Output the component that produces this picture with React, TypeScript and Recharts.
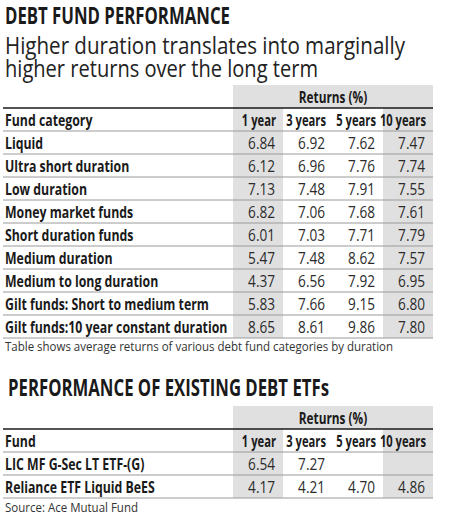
import { ReferenceArea, ReferenceLine, Scatter, ScatterChart, XAxis, YAxis } from 'recharts'

const periods = ['1 year', '3 years', '5 years', '10 years']

const fundCategories = [
	'Liquid',
	'Ultra short duration',
	'Low duration',
	'Money market funds',
	'Short duration funds',
	'Medium duration',
	'Medium to long duration',
	'Gilt funds: Short to medium term',
	'Gilt funds:10 year constant duration',
]
const oneYear = [6.84, 6.12, 7.13, 6.82, 6.01, 5.47, 4.37, 5.83, 8.65]
const threeYears = [6.92, 6.96, 7.48, 7.06, 7.03, 7.48, 6.56, 7.66, 8.61]
const fiveYears = [7.62, 7.76, 7.91, 7.68, 7.71, 8.62, 7.92, 9.15, 9.86]
const tenYears = [7.47, 7.74, 7.55, 7.61, 7.79, 7.57, 6.95, 6.8, 7.8]

const etfNames = ['LIC MF G-Sec LT ETF-(G)', 'Reliance ETF Liquid BeES']
const etfOneYear = [6.54, 4.17]
const etfThreeYears = [7.27, 4.21]
const etfFiveYears = [null, 4.7]
const etfTenYears = [null, 4.86]

const FONT = "'Open Sans', 'Noto Sans', sans-serif"
const LABEL_UNITS = 4.6
const GRAY = '#e0e0e0'

// squeezed svg text, the original uses a condensed face
const Squeezed = ({ x, y, sx, anchor = 'start', size, weight = 400, fill = '#1a1a1a', children }: any) => (
	<text
		transform={`translate(${x},${y}) scale(${sx},1)`}
		textAnchor={anchor}
		fontFamily={FONT}
		fontSize={size}
		fontWeight={weight}
		fill={fill}
	>
		{children}
	</text>
)

const labelShape = (p: any) => (
	<Squeezed x={p.cx + 2} y={p.cy + 6} sx={0.77} size={16} weight={700}>
		{p.payload.label}
	</Squeezed>
)

const headShape = (p: any) => (
	<Squeezed x={p.cx - 7} y={p.cy + 6} sx={0.7} size={16} weight={700} anchor='end'>
		{p.payload.label}
	</Squeezed>
)

const returnsShape = (p: any) => (
	<Squeezed x={p.cx} y={p.cy + 6} sx={0.74} size={16} weight={700} anchor='middle'>
		{p.payload.label}
	</Squeezed>
)

const valueShape = (p: any) => (
	<Squeezed x={p.cx - 8} y={p.cy + 6} sx={0.8} size={17} fill='#2b2b2b' anchor='end'>
		{p.payload.v.toFixed(2)}
	</Squeezed>
)

const Table = ({ heading, names, series, top, bottom }: any) => {
	const n = names.length
	const labels = names.map((label: string, r: number) => ({ x: -LABEL_UNITS, y: r + 0.5, label }))
	labels.push({ x: -LABEL_UNITS, y: -0.5, label: heading })
	const heads = periods.map((label, c) => ({ x: c + 1, y: -0.5, label }))
	const cells: any[] = []
	series.forEach((vals: (number | null)[], c: number) =>
		vals.forEach((v, r) => {
			if (v != null) cells.push({ x: c + 1, y: r + 0.5, v })
		}),
	)
	const returns = [{ x: periods.length / 2, y: -1.5, label: 'Returns (%)' }]

	return (
		<div style={{ position: 'absolute', left: 0, top: 0 }}>
			<ScatterChart width={450} height={520} margin={{ top, right: 17, bottom: 520 - bottom, left: 3 }}>
				<XAxis type='number' dataKey='x' domain={[-LABEL_UNITS, periods.length]} hide allowDataOverflow />
				<YAxis type='number' dataKey='y' domain={[-2, n]} reversed hide allowDataOverflow />
				<ReferenceArea x1={0} x2={periods.length} y1={-2} y2={-1} fill={GRAY} fillOpacity={1} />
				<ReferenceArea x1={0} x2={1} y1={-1} y2={n} fill={GRAY} fillOpacity={1} />
				<ReferenceArea x1={periods.length - 1} x2={periods.length} y1={-1} y2={n} fill={GRAY} fillOpacity={1} />
				{names.map((_: string, r: number) => (
					<ReferenceLine key={r} y={r} stroke='#9a9a9a' strokeWidth={1} />
				))}
				<ReferenceLine y={n} stroke='#9a9a9a' strokeWidth={1} />
				<ReferenceLine y={-1} stroke='#1a1a1a' strokeWidth={1.6} />
				<Scatter data={labels} shape={labelShape} isAnimationActive={false} />
				<Scatter data={heads} shape={headShape} isAnimationActive={false} />
				<Scatter data={returns} shape={returnsShape} isAnimationActive={false} />
				<Scatter data={cells} shape={valueShape} isAnimationActive={false} />
			</ScatterChart>
		</div>
	)
}

const Title = ({ x, y, size, weight = 400, len, fill = '#1a1a1a', children }: any) => (
	<text
		x={x}
		y={y}
		fontFamily={FONT}
		fontSize={size}
		fontWeight={weight}
		fill={fill}
		textLength={len}
		lengthAdjust='spacingAndGlyphs'
	>
		{children}
	</text>
)

const App = () => {
	return (
		<div style={{ position: 'absolute', left: 0, top: 0, width: 450, height: 520, background: '#fff' }}>
			<svg width={450} height={520} style={{ position: 'absolute', left: 0, top: 0 }}>
				<Title x={5} y={24} size={24} weight={700} len={225}>
					DEBT FUND PERFORMANCE
				</Title>
				<Title x={5} y={54} size={23} len={400} fill='#222'>
					Higher duration translates into marginally
				</Title>
				<Title x={5} y={77} size={23} len={313} fill='#222'>
					higher returns over the long term
				</Title>
				<Title x={5} y={351} size={13} len={388} fill='#333'>
					Table shows average returns of various debt fund categories by duration
				</Title>
				<Title x={8} y={396} size={24} weight={700} len={321}>
					PERFORMANCE OF EXISTING DEBT ETFs
				</Title>
				<Title x={5} y={512} size={13} len={133} fill='#333'>
					Source: Ace Mutual Fund
				</Title>
			</svg>
			<Table
				heading='Fund category'
				names={fundCategories}
				series={[oneYear, threeYears, fiveYears, tenYears]}
				top={85}
				bottom={338}
			/>
			<Table
				heading='Fund'
				names={etfNames}
				series={[etfOneYear, etfThreeYears, etfFiveYears, etfTenYears]}
				top={406}
				bottom={498}
			/>
		</div>
	)
}

export default App
